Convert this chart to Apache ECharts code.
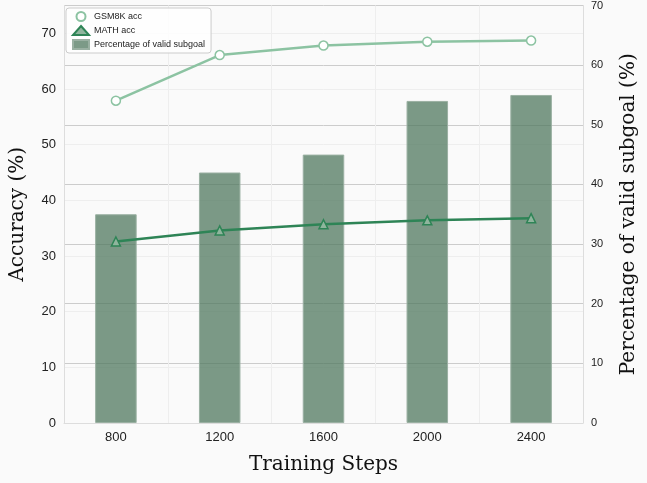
<!DOCTYPE html>
<html><head><meta charset="utf-8">
<script src="https://cdn.jsdelivr.net/npm/echarts@6/dist/echarts.min.js"></script>
<style>html,body{margin:0;padding:0;background:#fafafa}#c{width:647px;height:483px}</style>
</head><body><div id="c"></div>
<script>
const categories=['800','1200','1600','2000','2400'];
const gsm8k=[57.9,66.1,67.8,68.5,68.7];
const mathAcc=[32.6,34.6,35.7,36.4,36.8];
const validSubgoal=[35,42,45,54,55];
const ch=echarts.init(document.getElementById('c'));
const serif='DejaVu Serif';
ch.setOption({
 backgroundColor:'#fafafa',
 grid:{left:58,right:64,top:5,bottom:60},
 legend:{left:66,top:8,orient:'vertical',itemGap:3,itemWidth:16,itemHeight:9,
  backgroundColor:'rgba(255,255,255,0.8)',borderColor:'#ccc',borderWidth:1,borderRadius:3,padding:[3,6],
  textStyle:{fontSize:9,color:'#222'},
  data:[{name:'GSM8K acc',icon:'circle'},{name:'MATH acc',icon:'triangle'},{name:'Percentage of valid subgoal',icon:'rect'}]},
 xAxis:{type:'category',data:categories,name:'Training Steps',nameLocation:'middle',nameGap:32,
  nameTextStyle:{fontFamily:serif,fontSize:20,color:'#111'},
  axisLine:{lineStyle:{color:'#ddd'}},axisTick:{show:false},
  axisLabel:{color:'#222',fontSize:13},splitLine:{show:true,lineStyle:{color:'#eee'}}},
 yAxis:[{type:'value',min:0,max:75,interval:10,name:'Accuracy (%)',nameLocation:'middle',nameGap:36,
  nameTextStyle:{fontFamily:serif,fontSize:20,color:'#111'},
  axisLine:{show:true,lineStyle:{color:'#ddd'}},axisTick:{show:false},
  axisLabel:{color:'#222',fontSize:13,showMaxLabel:false},splitLine:{lineStyle:{color:'#eee'}}},
 {type:'value',min:0,max:70,interval:10,name:'Percentage of valid subgoal (%)',nameLocation:'middle',nameGap:36,nameRotate:90,
  nameTextStyle:{fontFamily:serif,fontSize:20,color:'#111'},
  axisLine:{show:true,lineStyle:{color:'#ddd'}},axisTick:{show:false},
  axisLabel:{color:'#222',fontSize:11},splitLine:{show:true,lineStyle:{color:'#ccc'}}}],
 series:[
  {name:'Percentage of valid subgoal',type:'bar',yAxisIndex:1,data:validSubgoal,barWidth:'40%',
   itemStyle:{color:'rgba(80,120,95,0.75)',borderColor:'#9ab0a2',borderWidth:1},z:1},
  {name:'GSM8K acc',type:'line',data:gsm8k,symbol:'circle',symbolSize:9,
   lineStyle:{color:'#8cc3a2',width:2.5},itemStyle:{color:'#fff',borderColor:'#8cc3a2',borderWidth:1.5},z:3},
  {name:'MATH acc',type:'line',data:mathAcc,symbol:'triangle',symbolSize:9,
   lineStyle:{color:'#2e8456',width:2.5},itemStyle:{color:'#8fb59d',borderColor:'#2e8456',borderWidth:1.5},z:3}
 ]});
</script></body></html>
